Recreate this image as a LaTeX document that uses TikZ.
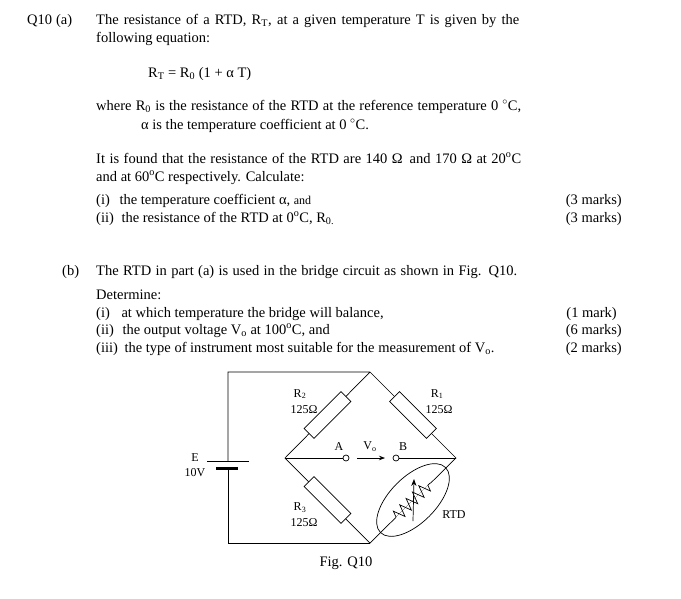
\documentclass[tikz,border=0pt]{standalone}
\usepackage{fontspec}
\setmainfont{Liberation Serif}
\usetikzlibrary{decorations.pathmorphing,arrows.meta}
\begin{document}
\begin{tikzpicture}[x=1pt,y=-1pt,
  txt/.style={anchor=base west,inner sep=0,font=\fontsize{14.5}{17}\selectfont},
  mk/.style={anchor=base east,inner sep=0,font=\fontsize{14.5}{17}\selectfont},
  ctxt/.style={inner sep=0,font=\fontsize{12}{14}\selectfont},
  wire/.style={line width=0.7pt},
  res/.style={draw,wire,fill=white,minimum width=52pt,minimum height=14pt,inner sep=0}]
\useasboundingbox (0,0) rectangle (681,598);
\node[txt] (t0) at (27,24) {Q10\hspace{4pt}(a)};
\node[txt] (t1) at (96,24) {\makebox[423pt][s]{The resistance of a RTD, R\textsubscript{T}, at a given temperature T is given by the}};
\node[txt] (t2) at (96,42) {following equation:};
\node[txt] (t3) at (148,77) {R\textsubscript{T} = R\textsubscript{0} (1 + α T)};
\node[txt] (t4) at (96,110) {\makebox[425pt][s]{where R\textsubscript{0} is the resistance of the RTD at the reference temperature 0 $^{\circ}$C,}};
\node[txt] (t5) at (141,129) {α is the temperature coefficient at 0 $^{\circ}$C.};
\node[txt] (t6) at (96,163) {\makebox[425pt][s]{It is found that the resistance of the RTD are 140 Ω\, and 170 Ω at 20$^{\mathrm{o}}$C}};
\node[txt] (t7) at (96,181) {and at 60$^{\mathrm{o}}$C respectively. Calculate:};
\node[txt] (t8) at (96,204) {(i)\hspace{6pt} the temperature coefficient α, {\fontsize{12}{14}\selectfont and}};
\node[txt] (t9) at (96,222) {(ii)\hspace{4pt} the resistance of the RTD at 0$^{\mathrm{o}}$C, R\textsubscript{0.}};
\node[mk] (m1) at (622,204) {(3 marks)};
\node[mk] (m2) at (622,222) {(3 marks)};
\node[txt] (b0) at (62,275) {(b)};
\node[txt] (b1) at (96,275) {\makebox[421pt][s]{The RTD in part (a) is used in the bridge circuit as shown in Fig. Q10.}};
\node[txt] (b2) at (96,299) {Determine:};
\node[txt] (b3) at (96,317) {(i)\hspace{8pt} at which temperature the bridge will balance,};
\node[txt] (b4) at (96,334) {(ii)\hspace{5pt} the output voltage V\textsubscript{o} at 100$^{\mathrm{o}}$C, and};
\node[txt] (b5) at (96,352) {(iii)\hspace{3pt} the type of instrument most suitable for the measurement of V\textsubscript{o}.};
\node[mk] (m3) at (617,317) {(1 mark)};
\node[mk] (m4) at (622,334) {(6 marks)};
\node[mk] (m5) at (622,352) {(2 marks)};
% circuit
\coordinate (T) at (370,372);
\coordinate (L) at (285,458);
\coordinate (R) at (456,458);
\coordinate (Bt) at (370,543);
\coordinate (TL) at (228,372);
\coordinate (BL) at (228,543);
\coordinate (P1) at (228,461);
\coordinate (P2) at (228,468);
\draw[wire] (P1) -- (TL) -- (T) -- (R) -- (Bt) -- (L) -- (T);
\draw[wire] (P2) -- (BL) -- (Bt);
\draw[wire] (207,461) -- (249,461);
\draw[line width=3pt] (216,468) -- (238,468);
\node[res,rotate=45] (r2) at (327.5,415) {};
\node[res,rotate=-45] (r1) at (413,415) {};
\node[res,rotate=-45] (r3) at (327.5,500) {};
\fill[white] (396,517) -- (430,483) -- (433,486) -- (399,520) -- cycle;
\draw[wire] (396,517) decorate[decoration={zigzag,segment length=9pt,amplitude=6pt}] {-- (430,483)};
\draw[wire,-{Stealth[length=7pt]}] (413,521) -- (414,479);
\draw[wire,rotate around={45:(413,500)}] (413,500) ellipse (46 and 23);
\node[draw,circle,wire,fill=white,inner sep=0,minimum size=6pt] (A) at (346,458) {};
\node[draw,circle,wire,fill=white,inner sep=0,minimum size=6pt] (B) at (396,458) {};
\draw[wire] (L) -- (A);
\draw[wire] (B) -- (R);
\draw[wire,-{Stealth[length=6pt]}] (357,458) -- (385,458);
\node[ctxt] (lA) at (339,447) {A};
\node[ctxt] (lV) at (370,447) {V\textsubscript{o}};
\node[ctxt] (lB) at (403,447) {B};
\node[ctxt] (lr2) at (300,394) {R\textsubscript{2}};
\node[ctxt] (vr2) at (304,410) {125Ω};
\node[ctxt] (lr1) at (437,394) {R\textsubscript{1}};
\node[ctxt] (vr1) at (439,410) {125Ω};
\node[ctxt] (lr3) at (300,508) {R\textsubscript{3}};
\node[ctxt] (vr3) at (304,523) {125Ω};
\node[ctxt] (lrtd) at (454,515) {RTD};
\node[ctxt] (lE) at (195,458) {E};
\node[ctxt] (lEv) at (195,473) {10V};
\node[inner sep=0,font=\fontsize{14.5}{17}\selectfont] (fig) at (346,563) {Fig. Q10};
\end{tikzpicture}
\end{document}
